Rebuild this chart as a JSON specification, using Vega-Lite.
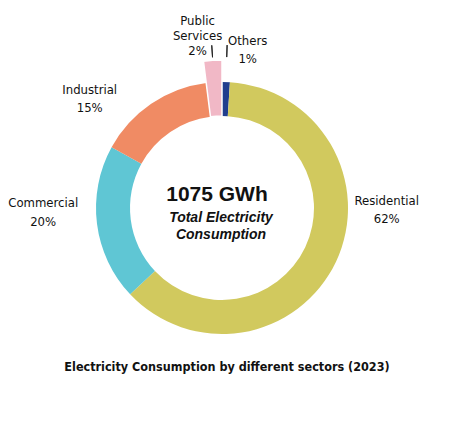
{
  "$schema": "https://vega.github.io/schema/vega-lite/v6.json",
  "width": 444,
  "height": 416,
  "autosize": "none",
  "padding": 0,
  "background": "white",
  "config": {
    "view": {"stroke": null},
    "font": "DejaVu Sans Condensed, Liberation Sans Narrow, Roboto, sans-serif"
  },
  "title": {
    "text": "Electricity Consumption by different sectors (2023)",
    "orient": "bottom",
    "anchor": "middle",
    "offset": -55,
    "dx": 5,
    "font": "DejaVu Sans Condensed, Liberation Sans Narrow, Roboto, sans-serif",
    "fontSize": 12.5,
    "fontWeight": "bold",
    "color": "#111111"
  },
  "datasets": {
    "sectors": [
      {"sector": "Others", "share": 1, "rank": 1, "label": "Others\n1%"},
      {"sector": "Residential", "share": 62, "rank": 2, "label": "Residential\n62%"},
      {"sector": "Commercial", "share": 20, "rank": 3, "label": "Commercial\n20%"},
      {"sector": "Industrial", "share": 15, "rank": 4, "label": "Industrial\n15%"},
      {"sector": "Public Services", "share": 2, "rank": 5, "label": "Public\nServices\n2%"}
    ],
    "total": [
      {"headline": "1075 GWh", "caption": "Total Electricity\nConsumption"}
    ]
  },
  "data": {"name": "sectors"},
  "encoding": {
    "theta": {"field": "share", "type": "quantitative", "stack": true},
    "order": {"field": "rank", "type": "quantitative"}
  },
  "layer": [
    {
      "mark": {"type": "arc", "outerRadius": 126, "innerRadius": 92},
      "encoding": {
        "color": {
          "field": "sector",
          "type": "nominal",
          "scale": {
            "domain": ["Others", "Residential", "Commercial", "Industrial", "Public Services"],
            "range": ["#213e8e", "#d1c95e", "#5fc6d4", "#f08b64", "#f1b8c6"]
          },
          "legend": null
        }
      }
    },
    {
      "mark": {"type": "arc", "outerRadius": 148, "innerRadius": 92, "stroke": "white", "strokeWidth": 1.5},
      "encoding": {
        "color": {"field": "sector", "type": "nominal", "legend": null},
        "opacity": {
          "condition": {"test": "datum.sector === 'Public Services'", "value": 1},
          "value": 0
        }
      }
    },
    {
      "mark": {"type": "arc", "outerRadius": 163, "innerRadius": 151, "padAngle": 0.4, "fillOpacity": 0, "strokeWidth": 1},
      "encoding": {
        "stroke": {
          "condition": {"test": "datum.sector === 'Others' || datum.sector === 'Public Services'", "value": "#222222"},
          "value": "transparent"
        }
      }
    },
    {
      "mark": {"type": "text", "radius": 150, "dx": 21, "dy": -17, "lineBreak": "\n", "lineHeight": 18, "fontSize": 13, "fill": "#111111"},
      "encoding": {
        "text": {"condition": {"test": "datum.sector === 'Others'", "field": "label"}, "value": ""}
      }
    },
    {
      "mark": {"type": "text", "radius": 150, "dx": 29, "dy": -71, "lineBreak": "\n", "lineHeight": 18, "fontSize": 13, "fill": "#111111"},
      "encoding": {
        "text": {"condition": {"test": "datum.sector === 'Residential'", "field": "label"}, "value": ""}
      }
    },
    {
      "mark": {"type": "text", "radius": 150, "dx": -30, "dy": -24, "lineBreak": "\n", "lineHeight": 19, "fontSize": 13, "fill": "#111111"},
      "encoding": {
        "text": {"condition": {"test": "datum.sector === 'Commercial'", "field": "label"}, "value": ""}
      }
    },
    {
      "mark": {"type": "text", "radius": 150, "dx": -48, "dy": 6, "lineBreak": "\n", "lineHeight": 18, "fontSize": 13, "fill": "#111111"},
      "encoding": {
        "text": {"condition": {"test": "datum.sector === 'Industrial'", "field": "label"}, "value": ""}
      }
    },
    {
      "mark": {"type": "text", "radius": 150, "dx": -15, "dy": -37, "lineBreak": "\n", "lineHeight": 15, "fontSize": 13, "fill": "#111111"},
      "encoding": {
        "text": {"condition": {"test": "datum.sector === 'Public Services'", "field": "label"}, "value": ""}
      }
    },
    {
      "data": {"name": "total"},
      "mark": {"type": "text", "dx": -5, "dy": -13, "font": "Liberation Sans", "fontSize": 21, "fontWeight": "bold", "fill": "#111111"},
      "encoding": {
        "theta": null,
        "order": null,
        "text": {"field": "headline"}
      }
    },
    {
      "data": {"name": "total"},
      "mark": {"type": "text", "dx": -1, "dy": 10, "lineBreak": "\n", "lineHeight": 16.5, "font": "Liberation Sans", "fontSize": 14, "fontWeight": "bold", "fontStyle": "italic", "fill": "#111111"},
      "encoding": {
        "theta": null,
        "order": null,
        "text": {"field": "caption"}
      }
    }
  ]
}
